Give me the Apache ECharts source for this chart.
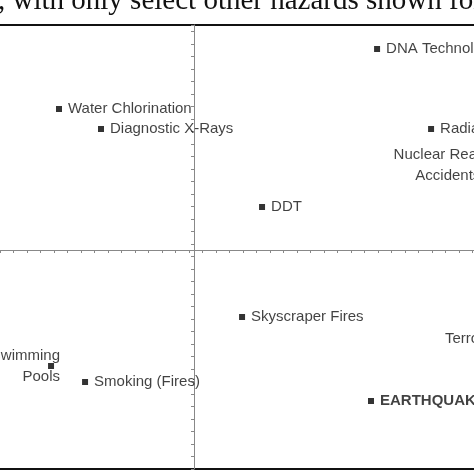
<!DOCTYPE html><html><head><meta charset="utf-8">
<script src="https://cdn.jsdelivr.net/npm/echarts@6/dist/echarts.min.js"></script>
<style>html,body{margin:0;padding:0;background:#fff}#c{width:474px;height:474px}</style></head><body><div id="c"></div>
<script>
const names=["DNA Technology","Water Chlorination","Diagnostic X-Rays","Radiation","DDT","Skyscraper Fires","Swimming\nPools","Smoking (Fires)","EARTHQUAKE"];
const xs=[13.56,-10.0,-6.89,17.56,5.04,3.56,-10.59,-8.07,13.11];
const ys=[16.08,11.28,9.68,9.68,3.44,-5.36,-9.28,-10.56,-12.08];
const textNames=["Nuclear Reactor\nAccidents","Terrorism"];
const textX=[18.8,20.9];
const textY=[6.8,-7.1];
const title=", with only select other hazards shown for";
const pts=names.map((n,i)=>({value:[xs[i],ys[i]],name:n,label:i===6?{position:'left',distance:-12,align:'right'}:{position:'right',fontWeight:i===8?'bold':'normal'}}));
const tps=textNames.map((n,i)=>({value:[textX[i],textY[i]],name:n}));
const ch=echarts.init(document.getElementById('c'));
ch.setOption({animation:false,
grid:{left:0,right:0,top:25,bottom:5},
xAxis:{type:'value',min:-14.37,max:20.74,interval:1,axisLine:{onZero:true,lineStyle:{color:'#888'}},axisTick:{length:3,lineStyle:{color:'#888'}},axisLabel:{show:false},splitLine:{show:false}},
yAxis:{type:'value',min:-17.52,max:18,interval:1,axisLine:{onZero:true,lineStyle:{color:'#888'}},axisTick:{length:3,lineStyle:{color:'#888'}},axisLabel:{show:false},splitLine:{show:false}},
graphic:[
{type:'text',left:-2,top:-13,style:{text:title,font:'29px "Liberation Serif"',fill:'#111'}},
{type:'line',shape:{x1:0,y1:25,x2:474,y2:25},style:{stroke:'#111',lineWidth:2}},
{type:'line',shape:{x1:0,y1:469,x2:474,y2:469},style:{stroke:'#111',lineWidth:2}}],
series:[{type:'scatter',data:pts,symbol:'rect',symbolSize:6,itemStyle:{color:'#000'},clip:false,
label:{show:true,formatter:'{b}',color:'#111',fontSize:15,fontFamily:'Liberation Sans',distance:6,lineHeight:21}},
{type:'scatter',data:tps,symbolSize:0,clip:false,label:{show:true,position:'inside',formatter:'{b}',color:'#111',fontSize:15,fontFamily:'Liberation Sans',lineHeight:21,align:'center'}}]});
</script></body></html>
